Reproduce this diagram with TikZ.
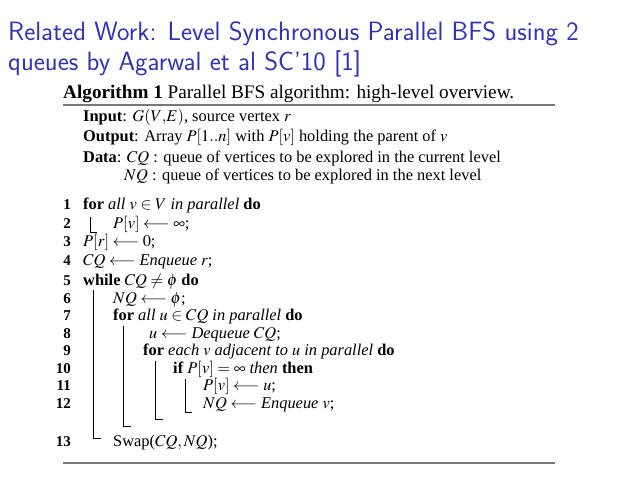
\documentclass[tikz,border=0pt]{standalone}
\usepackage{mathptmx}
\usepackage{fontspec}
\setmainfont{Liberation Serif}
\definecolor{titleblue}{RGB}{51,51,178}
\definecolor{rulegray}{RGB}{120,120,120}
\tikzset{
  t/.style={anchor=base west,inner sep=0pt,font=\fontsize{16.4}{19}\selectfont},
  num/.style={anchor=base east,inner sep=0pt,font=\fontsize{15}{17}\selectfont\bfseries},
  ttl/.style={anchor=base west,inner sep=0pt,text=titleblue,font=\sffamily\fontsize{26.5}{30}\selectfont},
  blk/.style={line width=0.6pt},
  hr/.style={rulegray,line width=1.2pt}
}
\begin{document}
\begin{tikzpicture}[x=1pt,y=-1pt]
\useasboundingbox (0,0) rectangle (638,479);
\node[ttl] (t1) at (8,40) {Related Work: Level Synchronous Parallel BFS using 2};
\node[ttl] (t2) at (8,70) {queues by Agarwal et al SC'10 [1]};
\node[anchor=base west,inner sep=0pt,font=\fontsize{19.2}{22}\selectfont] (h) at (63,98) {\textbf{Algorithm 1} Parallel BFS algorithm: high-level overview.};
\coordinate (r1a) at (63,105); \coordinate (r1b) at (555,105);
\draw[hr] (r1a) -- (r1b);
\node[t] (in) at (83,121) {\textbf{Input}: $G(V{,}E)$, source vertex $r$};
\node[t] (out) at (83,141) {\textbf{Output}: Array $P[1..n]$ with $P[v]$ holding the parent of $v$};
\node[t] (dat) at (83,162) {\textbf{Data}: $CQ$ : queue of vertices to be explored in the current level};
\node[t] (dat2) at (124,180) {$NQ$ : queue of vertices to be explored in the next level};
\node[num] (n1) at (71,209) {1}; \node[t] (l1) at (83,209) {\textbf{for} \textit{all} $v\in V$ \textit{in parallel} \textbf{do}};
\node[num] (n2) at (71,228) {2}; \node[t] (l2) at (113,228) {$P[v]\longleftarrow\infty$;};
\node[num] (n3) at (71,246) {3}; \node[t] (l3) at (83,246) {$P[r]\longleftarrow 0$;};
\node[num] (n4) at (71,265) {4}; \node[t] (l4) at (83,265) {$CQ\longleftarrow$ \textit{Enqueue} $r$;};
\node[num] (n5) at (71,285) {5}; \node[t] (l5) at (83,285) {\textbf{while} $CQ\neq\phi$ \textbf{do}};
\node[num] (n6) at (71,303) {6}; \node[t] (l6) at (113,303) {$NQ\longleftarrow\phi$;};
\node[num] (n7) at (71,320) {7}; \node[t] (l7) at (113,320) {\textbf{for} \textit{all} $u\in CQ$ \textit{in parallel} \textbf{do}};
\node[num] (n8) at (71,338) {8}; \node[t] (l8) at (149,338) {$u\longleftarrow$ \textit{Dequeue} $CQ$;};
\node[num] (n9) at (71,355) {9}; \node[t] (l9) at (143,355) {\textbf{for} \textit{each} $v$ \textit{adjacent to} $u$ \textit{in parallel} \textbf{do}};
\node[num] (n10) at (71,373) {10}; \node[t] (l10) at (173,373) {\textbf{if} $P[v]=\infty$ \textit{then} \textbf{then}};
\node[num] (n11) at (71,390) {11}; \node[t] (l11) at (203,390) {$P[v]\longleftarrow u$;};
\node[num] (n12) at (71,408) {12}; \node[t] (l12) at (203,408) {$NQ\longleftarrow$ \textit{Enqueue} $v$;};
\node[num] (n13) at (71,446) {13}; \node[t] (l13) at (113,446) {Swap($CQ,NQ$);};
\draw[blk] (90,217) -- (90,232) -- (97,232);
\draw[blk] (93,290) -- (93,438) -- (101,438);
\draw[blk] (123,326) -- (123,426) -- (131,426);
\draw[blk] (155,361) -- (155,419) -- (163,419);
\draw[blk] (185,379) -- (185,412) -- (192,412);
\coordinate (r2a) at (63,463); \coordinate (r2b) at (555,463);
\draw[hr] (r2a) -- (r2b);
\end{tikzpicture}
\end{document}
